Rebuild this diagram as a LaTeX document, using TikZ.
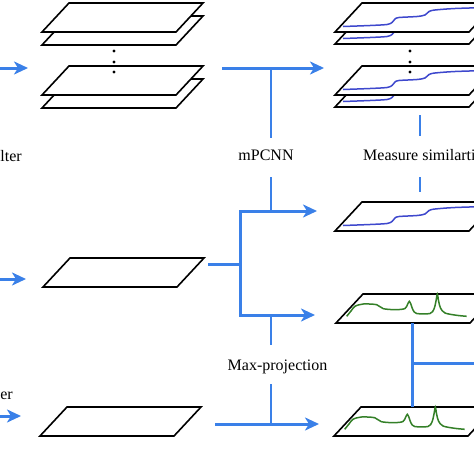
\documentclass[tikz,border=0pt]{standalone}
\usepackage{fontspec}
\setmainfont{Liberation Serif}
\usetikzlibrary{arrows.meta}
\definecolor{flow}{RGB}{58,128,232}
\definecolor{sig}{RGB}{62,72,205}
\definecolor{peak}{RGB}{52,128,40}
\tikzset{
  plane/.style={draw=black, line width=1.6pt, fill=white, line join=miter},
  flowline/.style={draw=flow, line width=3pt},
  flowarrow/.style={flowline, -{Stealth[length=14pt,width=13pt,inset=4pt]}},
  thinline/.style={draw=flow, line width=1.6pt},
  lbl/.style={font=\fontsize{16}{19}\selectfont, inner sep=0pt},
  sigcurve/.style={draw=sig, line width=1.5pt},
  peakcurve/.style={draw=peak, line width=1.5pt},
  pics/sheet/.style={code={\path[plane] (0,0) -- (134,0) -- (161,-29) -- (27,-29) -- cycle;}},
  pics/sigsheet/.style={code={
    \path[plane] (0,0) -- (134,0) -- (161,-29) -- (27,-29) -- cycle;
    \draw[sigcurve] plot[smooth,tension=0.5] coordinates {(8,-5.5) (35,-6.5) (52,-7.5) (57,-9.5) (60,-13) (64,-14.5) (82,-15.5) (90,-17) (94,-20.5) (100,-22) (120,-23.5) (152,-24.5)};}},
  pics/peaksheet/.style={code={
    \path[plane] (0,0) -- (134,0) -- (161,-29) -- (27,-29) -- cycle;
    \draw[peakcurve] plot[smooth,tension=0.5] coordinates {(10.7,-6.7) (15,-12) (19,-16.7) (27.3,-19) (40.7,-18.3) (47.3,-14.3) (60.7,-13.3) (69,-14.5) (71.5,-18.5) (73.3,-21.7) (75,-18.5) (77,-13) (80.7,-9.5) (94,-9.5) (98,-14) (100,-22) (101.3,-29) (102.6,-22) (104.5,-15) (109,-10) (120.7,-7.7) (130.7,-6.7)};}},
}
\begin{document}
\begin{tikzpicture}[x=1pt,y=-1pt]
\useasboundingbox (0,0) rectangle (474,474);

% left stack
\pic at (42,45) {sheet};
\pic at (42,32) {sheet};
\pic at (42,108) {sheet};
\pic at (42,95) {sheet};
\foreach \yy in {51,62,72} \fill (114,\yy) circle (1.7pt);
% left single sheets
\pic at (43,287) {sheet};
\pic at (40,436) {sheet};

% right stack
\pic at (335,44) {sigsheet};
\pic at (335,32) {sigsheet};
\pic at (335,107) {sigsheet};
\pic at (335,95) {sigsheet};
\foreach \yy in {51,62,72} \fill (410,\yy) circle (1.7pt);
\pic at (335,231) {sigsheet};
\pic at (336,323) {peaksheet};
\pic at (334,436) {peaksheet};

% labels
\node[lbl, anchor=base east] (filt) at (22,161) {lter};
\node[lbl, anchor=base east] (filt2) at (13,399) {er};
\node[lbl, anchor=base] (mpcnn) at (266,160) {mPCNN};
\node[lbl, anchor=base west] (meas) at (363,160) {Measure similarti};
\node[lbl, anchor=base] (maxp) at (277.5,370) {Max-projection};

% coordinates
\coordinate (inA) at (0,68);   \coordinate (stA) at (28,68);
\coordinate (inB) at (0,279);  \coordinate (stB) at (26,279);
\coordinate (inC) at (0,416);  \coordinate (stC) at (21,416);
\coordinate (oA) at (222,68);  \coordinate (rA) at (324,68);
\coordinate (jA) at (271,68);  \coordinate (jA2) at (271,211);
\coordinate (oB) at (208,264); \coordinate (bB) at (240,264);
\coordinate (bT) at (240,211); \coordinate (bD) at (240,315);
\coordinate (rB) at (317,211); \coordinate (rG) at (315,315);
\coordinate (jC) at (271,315); \coordinate (jC2) at (271,424);
\coordinate (oC) at (215,424); \coordinate (rC) at (319,424);
\coordinate (mT) at (420,115); \coordinate (mB) at (420,192);
\coordinate (gT) at (412,323); \coordinate (gB) at (412,407);
\coordinate (gM) at (412,363); \coordinate (gR) at (476,363);

% connectors
\draw[flowarrow] (inA) -- (stA);
\draw[flowarrow] (inB) -- (stB);
\draw[flowarrow] (inC) -- (stC);
\draw[flowarrow] (oA) -- (rA);
\draw[thinline] (jA) -- (jA |- 0,138) (jA2 |- 0,177) -- (jA2);
\draw[flowline] (oB) -- (bB);
\draw[flowline, line cap=rect] (bT) -- (bD);
\draw[flowarrow] (bT) -- (rB);
\draw[flowarrow] (bD) -- (rG);
\draw[thinline] (jC) -- (jC |- 0,345) (jC2 |- 0,384) -- (jC2);
\draw[flowarrow] (oC) -- (rC);
\draw[thinline] (mT) -- (mT |- 0,136) (mB |- 0,177) -- (mB);
\draw[flowline] (gT) -- (gB);
\draw[flowline] (gM) -- (gR);
\end{tikzpicture}
\end{document}
